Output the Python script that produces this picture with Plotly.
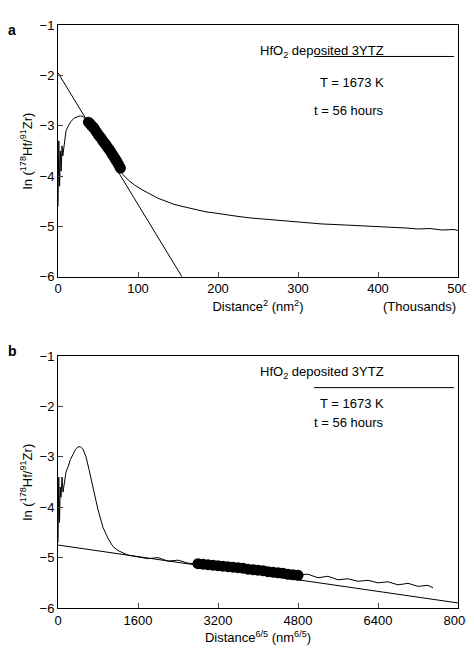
import plotly.graph_objects as go
from plotly.subplots import make_subplots

# Panel a: x = Distance^2 (thousands nm^2)
a_x = [0,1,2,3,4,5,6,8,10,13,16,20,24,28,32,36,40,45,50,55,60,65,70,75,80,88,96,105,115,125,135,145,155,165,175,185,195,210,225,240,255,270,285,300,315,330,345,360,375,390,405,420,435,450,465,480,495,500]
a_y = [-4.6,-3.3,-4.2,-3.5,-3.9,-3.4,-3.6,-3.3,-3.1,-3.0,-2.92,-2.85,-2.82,-2.8,-2.83,-2.88,-2.95,-3.05,-3.18,-3.3,-3.42,-3.58,-3.7,-3.82,-3.95,-4.08,-4.18,-4.27,-4.36,-4.44,-4.5,-4.56,-4.6,-4.64,-4.67,-4.71,-4.73,-4.77,-4.8,-4.83,-4.85,-4.87,-4.9,-4.92,-4.93,-4.95,-4.96,-4.97,-4.99,-5.0,-5.0,-5.02,-5.03,-5.05,-5.04,-5.07,-5.06,-5.08]
a_dot_x = [38,40,42,44,46,48,50,52,54,56,58,60,62,64,66,68,70,72,74,76,78]
a_dot_y = [-2.93,-2.96,-3.0,-3.03,-3.07,-3.12,-3.17,-3.21,-3.25,-3.3,-3.34,-3.38,-3.43,-3.47,-3.52,-3.57,-3.62,-3.67,-3.72,-3.78,-3.84]
a_fit_x = [0,155]
a_fit_y = [-1.95,-6.0]

# Panel b: x = Distance^(6/5)
b_x = [0,15,30,45,60,80,100,130,160,200,250,300,350,400,450,500,560,620,700,800,900,1000,1100,1200,1400,1600,1800,2000,2200,2400,2600,2800,3200,3600,4000,4400,4800,5000,5200,5400,5600,5800,6000,6200,6400,6600,6800,7000,7200,7400,7500]
b_y = [-4.7,-3.4,-4.3,-3.6,-3.8,-3.4,-3.7,-3.5,-3.3,-3.2,-3.05,-2.95,-2.85,-2.8,-2.8,-2.85,-3.0,-3.25,-3.6,-4.05,-4.4,-4.62,-4.78,-4.86,-4.95,-4.98,-5.02,-5.0,-5.07,-5.05,-5.11,-5.12,-5.15,-5.2,-5.25,-5.3,-5.34,-5.33,-5.4,-5.37,-5.44,-5.42,-5.47,-5.45,-5.5,-5.48,-5.54,-5.51,-5.57,-5.55,-5.6]
b_dot_x = [2800,2900,3000,3100,3200,3300,3400,3500,3600,3700,3800,3900,4000,4100,4200,4300,4400,4500,4600,4700,4800]
b_dot_y = [-5.12,-5.13,-5.14,-5.15,-5.16,-5.17,-5.18,-5.19,-5.2,-5.21,-5.23,-5.24,-5.25,-5.26,-5.28,-5.29,-5.3,-5.31,-5.33,-5.34,-5.35]
b_fit_x = [0,8000]
b_fit_y = [-4.75,-5.9]

fig = make_subplots(rows=2, cols=1, vertical_spacing=0.136)
for r, (x, y, dx, dy, fx, fy) in enumerate([(a_x, a_y, a_dot_x, a_dot_y, a_fit_x, a_fit_y),
                                             (b_x, b_y, b_dot_x, b_dot_y, b_fit_x, b_fit_y)], start=1):
    fig.add_trace(go.Scatter(x=fx, y=fy, mode="lines", line=dict(color="black", width=1)), row=r, col=1)
    fig.add_trace(go.Scatter(x=x, y=y, mode="lines", line=dict(color="black", width=1)), row=r, col=1)
    fig.add_trace(go.Scatter(x=dx, y=dy, mode="markers", marker=dict(color="black", size=11)), row=r, col=1)

ax = dict(showline=True, linecolor="black", mirror=True, ticks="inside", showgrid=False, zeroline=False,
          tickfont=dict(size=13, color="black"))
fig.update_xaxes(**ax)
fig.update_yaxes(**ax, range=[-6, -1], dtick=1)
fig.update_xaxes(range=[0, 500], dtick=100, row=1, col=1)
fig.update_xaxes(range=[0, 8000], tickvals=[0,1600,3200,4800,6400,8000], row=2, col=1)
fig.update_xaxes(title=dict(text="Distance<sup>2</sup> (nm<sup>2</sup>)", font=dict(size=13), standoff=6), row=1, col=1)
fig.update_xaxes(title=dict(text="Distance<sup>6/5</sup> (nm<sup>6/5</sup>)", font=dict(size=13), standoff=6), row=2, col=1)
ylab = "ln (<sup>178</sup>Hf/<sup>91</sup>Zr)"
fig.update_yaxes(title=dict(text=ylab, font=dict(size=13), standoff=4), row=1, col=1)
fig.update_yaxes(title=dict(text=ylab, font=dict(size=13), standoff=4), row=2, col=1)

fig.add_annotation(text="(Thousands)", xref="paper", yref="paper", x=1.0, y=0.518, xanchor="right",
                   yanchor="middle", showarrow=False, font=dict(size=13, color="black"))
for y0, lab in [(0.568, "a"), (0.0, "b")]:
    h = 0.432
    fig.add_annotation(text="<b>%s</b>" % lab, xref="paper", yref="paper", x=-0.13, y=y0 + h * 1.02,
                       showarrow=False, font=dict(size=14, color="black"))
    fig.add_annotation(text="HfO<sub>2</sub> deposited 3YTZ", xref="paper", yref="paper",
                       x=0.82, y=y0 + h * 0.935, showarrow=False, font=dict(size=13, color="black"))
    fig.add_annotation(text="T = 1673 K", xref="paper", yref="paper",
                       x=0.82, y=y0 + h * 0.81, showarrow=False, font=dict(size=13, color="black"))
    fig.add_annotation(text="t = 56 hours", xref="paper", yref="paper",
                       x=0.82, y=y0 + h * 0.7, showarrow=False, font=dict(size=13, color="black"))
    fig.add_shape(type="line", xref="paper", yref="paper", x0=0.64, x1=0.99,
                  y0=y0 + h * 0.875, y1=y0 + h * 0.875, line=dict(color="black", width=1))

fig.update_layout(width=474, height=666, showlegend=False, plot_bgcolor="white", paper_bgcolor="white",
                  margin=dict(l=50, r=16, t=10, b=66),
                  font=dict(family="Liberation Sans, Arial", color="black"))
fig.write_html("out.html")
